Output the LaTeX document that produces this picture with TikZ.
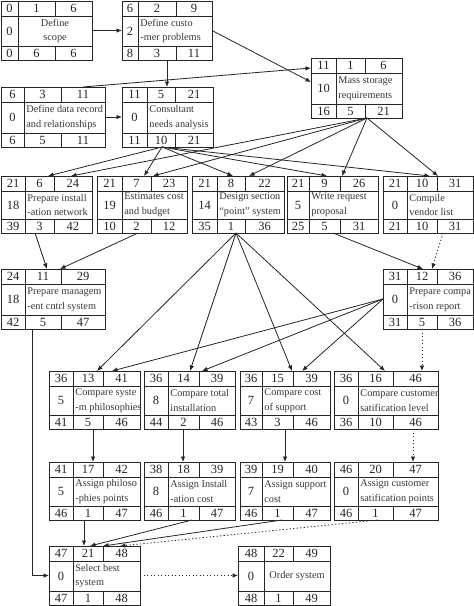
\documentclass[tikz,border=0pt]{standalone}
\usepackage{fontspec}
\setmainfont{Liberation Serif}
\usetikzlibrary{arrows.meta}
\tikzset{
  boxframe/.style={draw=black!85, line width=0.9pt, inner sep=0pt, outer sep=0pt},
  cellline/.style={draw=black!85, line width=0.9pt},
  num/.style={inner sep=0pt, text=black!85, font=\fontsize{12.5}{12.5}\selectfont},
  lbl/.style={inner sep=0pt, text=black!78, font=\fontsize{10.3}{14.8}\selectfont},
  arr/.style={draw=black!85, line width=0.8pt, -{Latex[length=5.5pt,width=4.5pt]}},
  dotarr/.style={arr, dash pattern=on 1.3pt off 2.2pt}
}
\newcommand\tbgeom[7]{\def\tbn{#1}\def\tbxa{#2}\def\tbya{#3}\def\tbxb{#4}\def\tbyb{#5}\def\tbca{#6}\def\tbcb{#7}}
\newcommand\tbtext[9]{%
  \pgfmathsetmacro\tbyc{\tbya+15}%
  \pgfmathsetmacro\tbyd{\tbyb-14}%
  \pgfmathsetlengthmacro\tbw{\tbxb-\tbxa}%
  \pgfmathsetlengthmacro\tbh{\tbyb-\tbya}%
  \node[boxframe, minimum width=\tbw, minimum height=\tbh, anchor=north west] (\tbn) at (\tbxa,\tbya) {};
  \draw[cellline] (\tbxa,\tbyc) -- (\tbxb,\tbyc) (\tbxa,\tbyd) -- (\tbxb,\tbyd)
    (\tbca,\tbya) -- (\tbca,\tbyb) (\tbcb,\tbya) -- (\tbcb,\tbyc) (\tbcb,\tbyd) -- (\tbcb,\tbyb);
  \node[num] (\tbn-tl) at ({(\tbxa+\tbca)/2},{(\tbya+\tbyc)/2}) {#2};
  \node[num] (\tbn-tm) at ({(\tbca+\tbcb)/2},{(\tbya+\tbyc)/2}) {#3};
  \node[num] (\tbn-tr) at ({(\tbcb+\tbxb)/2},{(\tbya+\tbyc)/2}) {#4};
  \node[num] (\tbn-ml) at ({(\tbxa+\tbca)/2},{(\tbyc+\tbyd)/2}) {#5};
  \ifx l#1
    \node[lbl, align=left, anchor=west] (\tbn-lb) at ({\tbca+2.2},{(\tbyc+\tbyd)/2}) {#6};
  \else
    \node[lbl, align=center] (\tbn-lb) at ({(\tbca+\tbxb)/2},{(\tbyc+\tbyd)/2}) {#6};
  \fi
  \node[num] (\tbn-bl) at ({(\tbxa+\tbca)/2},{(\tbyd+\tbyb)/2}) {#7};
  \node[num] (\tbn-bm) at ({(\tbca+\tbcb)/2},{(\tbyd+\tbyb)/2}) {#8};
  \node[num] (\tbn-br) at ({(\tbcb+\tbxb)/2},{(\tbyd+\tbyb)/2}) {#9};
}
\begin{document}
\begin{tikzpicture}[x=1pt,y=-1pt]
\fill[white] (0,0) rectangle (474,606);
\useasboundingbox (0,0) rectangle (474,606);

\tbgeom{b1}{1}{1}{92}{60}{18}{55}
\tbtext{c}{0}{1}{6}{0}{Define\\scope}{0}{6}{6}
\tbgeom{b2}{122}{1}{212}{60}{138}{176}
\tbtext{l}{6}{2}{9}{2}{Define custo\\-mer problems}{8}{3}{11}
\tbgeom{b3}{1}{87}{105}{147}{24}{61}
\tbtext{l}{6}{3}{11}{0}{Define data record\\and relationships}{6}{5}{11}
\tbgeom{b4}{122}{87}{213}{147}{147}{175}
\tbtext{l}{11}{5}{21}{0}{Consultant\\needs analysis}{11}{10}{21}
\tbgeom{b5}{311}{58}{402}{118}{336}{365}
\tbtext{l}{11}{1}{6}{10}{Mass storage\\requirements}{16}{5}{21}

\tbgeom{b6}{1}{176}{92}{233}{25}{54}
\tbtext{l}{21}{6}{24}{18}{Prepare install\\-ation network}{39}{3}{42}
\tbgeom{b7}{97}{176}{187}{233}{122}{151}
\tbtext{l}{21}{7}{23}{19}{Estimates cost\\and budget}{10}{2}{12}
\tbgeom{b8}{192}{176}{284}{233}{217}{245}
\tbtext{l}{21}{8}{22}{14}{Design section\\“point” system}{35}{1}{36}
\tbgeom{b9}{287}{176}{378}{233}{309}{340}
\tbtext{l}{21}{9}{26}{5}{Write request\\proposal}{25}{5}{31}
\tbgeom{b10}{383}{176}{473}{233}{407}{437}
\tbtext{l}{21}{10}{31}{0}{Compile\\vendor list}{21}{10}{31}

\tbgeom{b11}{1}{269}{105}{329}{25}{61}
\tbtext{l}{24}{11}{29}{18}{Prepare managem\\-ent cntrl system}{42}{5}{47}
\tbgeom{b12}{383}{269}{473}{329}{407}{437}
\tbtext{l}{31}{12}{36}{0}{Prepare compa\\-rison report}{31}{5}{36}

\tbgeom{b13}{49}{371}{140}{429}{73}{103}
\tbtext{l}{36}{13}{41}{5}{Compare syste\\-m philosophies}{41}{5}{46}
\tbgeom{b14}{144}{371}{235}{429}{168}{199}
\tbtext{l}{36}{14}{39}{8}{Compare total\\installation}{44}{2}{46}
\tbgeom{b15}{240}{371}{330}{429}{262}{293}
\tbtext{l}{36}{15}{39}{7}{Compare cost\\of support}{43}{3}{46}
\tbgeom{b16}{334}{371}{438}{429}{358}{393}
\tbtext{l}{36}{16}{46}{0}{Compare customer\\satification level}{36}{10}{46}

\tbgeom{b17}{49}{462}{140}{520}{73}{103}
\tbtext{l}{41}{17}{42}{5}{Assign philoso\\-phies points}{46}{1}{47}
\tbgeom{b18}{144}{462}{235}{520}{168}{199}
\tbtext{l}{38}{18}{39}{8}{Assign Install\\-ation cost}{46}{1}{47}
\tbgeom{b19}{240}{462}{330}{520}{262}{293}
\tbtext{l}{39}{19}{40}{7}{Assign support\\cost}{46}{1}{47}
\tbgeom{b20}{334}{462}{438}{520}{358}{393}
\tbtext{l}{46}{20}{47}{0}{Assign customer\\satification points}{46}{1}{47}

\tbgeom{b21}{49}{546}{140}{605}{73}{103}
\tbtext{l}{47}{21}{48}{0}{Select best\\system}{47}{1}{48}
\tbgeom{b22}{238}{546}{330}{605}{264}{293}
\tbtext{c}{48}{22}{49}{0}{Order system}{48}{1}{49}

% connectors
\draw[arr] (b1.east) -- (b2.west);
\draw[arr] ([xshift=45pt]b2.south west) -- ([xshift=45pt]b4.north west);
\draw[arr] (b2.east) -- ([yshift=-24pt]b5.north west);
\draw[arr] ([xshift=82pt]b3.north west) -- ([yshift=-10pt]b5.north west);
\draw[arr] (b3.east) -- (b4.west);

\draw[arr] ([xshift=40pt]b4.south west) -- ([xshift=47pt]b6.north west);
\draw[arr] ([xshift=40pt]b4.south west) -- ([xshift=47pt]b7.north west);
\draw[arr] ([xshift=40pt]b4.south west) -- ([xshift=41pt]b8.north west);
\draw[arr] ([xshift=40pt]b4.south west) -- ([xshift=40pt]b9.north west);
\draw[arr] ([xshift=40pt]b4.south west) -- ([xshift=47pt]b10.north west);

\draw[arr] ([xshift=56pt]b5.south west) -- ([xshift=70pt]b6.north west);
\draw[arr] ([xshift=56pt]b5.south west) -- ([xshift=56pt]b7.north west);
\draw[arr] ([xshift=56pt]b5.south west) -- ([xshift=57pt]b8.north west);
\draw[arr] ([xshift=56pt]b5.south west) -- ([xshift=55pt]b9.north west);
\draw[arr] ([xshift=56pt]b5.south west) -- ([xshift=55pt]b10.north west);

\draw[arr] ([xshift=34pt]b6.south west) -- ([xshift=46pt]b11.north west);
\draw[arr] ([xshift=41pt]b7.south west) -- ([xshift=59pt]b11.north west);
\draw[arr] ([xshift=46pt]b9.south west) -- ([xshift=40pt]b12.north west);
\draw[dotarr] ([xshift=60pt]b10.south west) -- ([xshift=49pt]b12.north west);

\draw[arr] ([xshift=44pt]b8.south west) -- ([xshift=48pt]b13.north west);
\draw[arr] ([xshift=44pt]b8.south west) -- ([xshift=46pt]b14.north west);
\draw[arr] ([xshift=44pt]b8.south west) -- ([xshift=52pt]b15.north west);
\draw[arr] ([xshift=44pt]b8.south west) -- ([xshift=51pt]b16.north west);

\draw[arr] ([yshift=-30pt]b12.north west) -- ([xshift=63pt]b13.north west);
\draw[arr] ([yshift=-30pt]b12.north west) -- ([xshift=58pt]b14.north west);
\draw[arr] ([yshift=-30pt]b12.north west) -- ([xshift=62pt]b15.north west);
\draw[dotarr] ([xshift=39pt]b12.south west) -- ([xshift=88pt]b16.north west);

\draw[arr] ([xshift=44pt]b13.south west) -- ([xshift=44pt]b17.north west);
\draw[arr] ([xshift=39pt]b14.south west) -- ([xshift=39pt]b18.north west);
\draw[arr] ([xshift=45pt]b15.south west) -- ([xshift=45pt]b19.north west);
\draw[dotarr] ([xshift=79pt]b16.south west) -- ([xshift=79pt]b20.north west);

\draw[arr] ([xshift=35pt]b17.south west) -- ([xshift=35pt]b21.north west);
\draw[arr] ([xshift=48pt]b18.south west) -- ([xshift=41pt]b21.north west);
\draw[arr] ([xshift=42pt]b19.south west) -- ([xshift=54pt]b21.north west);
\draw[dotarr] ([xshift=44pt]b20.south west) -- ([xshift=71pt]b21.north west);

\draw[arr] ([xshift=31pt]b11.south west) |- (b21.west);
\draw[dotarr] (b21.east) -- (b22.west);
\end{tikzpicture}
\end{document}
